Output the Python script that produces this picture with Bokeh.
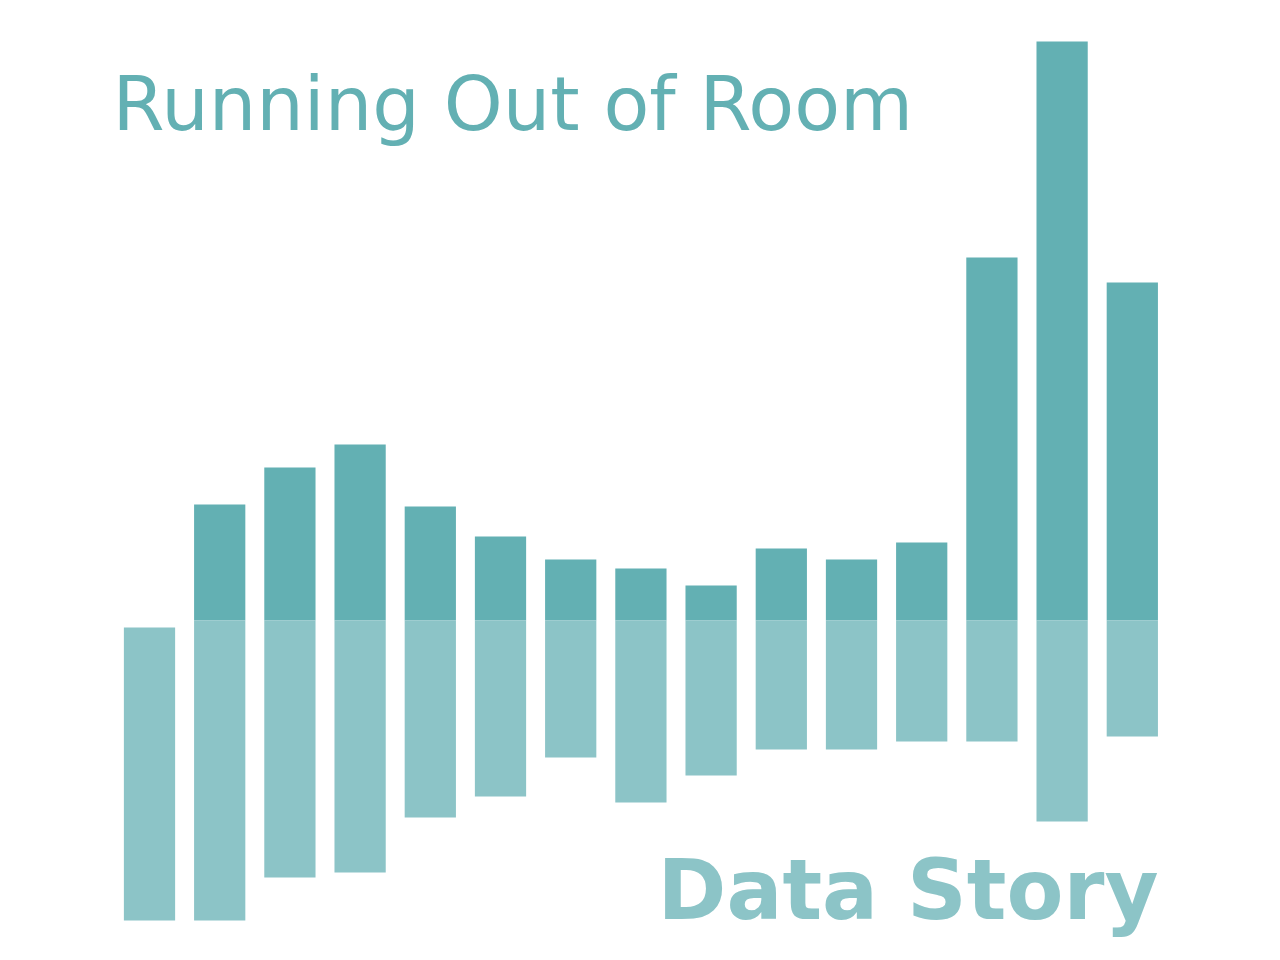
from bokeh.plotting import figure
from bokeh.models import Range1d, Label, ColumnDataSource
from bokeh.embed import file_html
from bokeh.resources import INLINE

# Data (arbitrary units)
categories = list(range(15))
upper_values = [0, 116, 153, 176, 114, 84, 61, 52, 35, 72, 61, 78, 363, 579, 338]
lower_start = [-7, 0, 0, 0, 0, 0, 0, 0, 0, 0, 0, 0, 0, 0, 0]
lower_values = [-300, -300, -257, -252, -197, -176, -137, -182, -155, -129, -129, -121, -121, -201, -116]

DARK = "#63b0b3"
LIGHT = "#8cc4c7"

p = figure(width=1264, height=944, output_backend="svg", toolbar_location=None,
           x_range=Range1d(-2.1225, 15.883), y_range=Range1d(-324, 620),
           min_border=0, outline_line_color=None)
p.axis.visible = False
p.grid.visible = False
p.background_fill_color = "white"
p.border_fill_color = "white"

src = ColumnDataSource(dict(x=categories, up=upper_values, ls=lower_start, lo=lower_values))
p.vbar(x="x", width=0.73, bottom=0, top="up", source=src, fill_color=DARK, line_color=None)
p.vbar(x="x", width=0.73, bottom="lo", top="ls", source=src, fill_color=LIGHT, line_color=None)

title = Label(x=112, y=841, x_units="screen", y_units="screen", text="Running Out of Room",
              text_font="DejaVu Sans", text_font_size="75px", text_color=DARK,
              text_align="left", text_baseline="alphabetic")
p.add_layout(title)

sub = Label(x=1158, y=54, x_units="screen", y_units="screen", text="Data Story",
            text_font="DejaVu Sans", text_font_size="83px", text_font_style="bold", text_color=LIGHT,
            text_align="right", text_baseline="alphabetic")
p.add_layout(sub)

open("out.html", "w").write(file_html(p, INLINE))
